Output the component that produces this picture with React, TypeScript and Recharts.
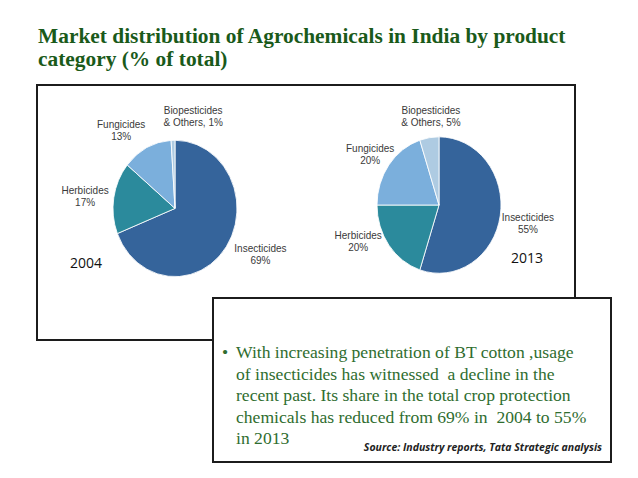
import React from 'react';
import { PieChart, Pie, Cell } from 'recharts';

const categories = ['Insecticides', 'Herbicides', 'Fungicides', 'Biopesticides & Others'];
const share2004 = [69, 17, 13, 1];
const share2013 = [55, 20, 20, 5];
const years = ['2004', '2013'];

const COLORS = ['#35649b', '#2b8a9c', '#7bafdc', '#aecbe2'];

// the pie picture in the slide is stretched a bit vertically
const STRETCH = 1.1;

// small nudges so labels sit where the slide has them
const NUDGE: Record<string, [number, number]> = {
  '2004-Insecticides': [11, -9],
  '2004-Herbicides': [-1, 3],
  '2004-Fungicides': [-13, 9],
  '2004-Biopesticides & Others': [21, 6],
  '2013-Insecticides': [0, 2],
  '2013-Herbicides': [-8, -20],
  '2013-Fungicides': [4, 6],
  '2013-Biopesticides & Others': [6, 8],
};

const bulletLines = [
  'With increasing penetration of BT cotton ,usage',
  'of insecticides has witnessed  a decline in the',
  'recent past. Its share in the total crop protection',
  'chemicals has reduced from 69% in  2004 to 55%',
  'in 2013',
];

const toRows = (values: number[]) => categories.map((name, i) => ({ name, value: values[i] }));

const makeLabel = (year: string) => (props: any) => {
  const { cx, cy, midAngle, outerRadius, name, value } = props;
  const RAD = Math.PI / 180;
  const r = outerRadius + 28;
  const [nx, ny] = NUDGE[`${year}-${name}`] || [0, 0];
  const x = cx + r * Math.cos(-midAngle * RAD) + nx;
  const y = cy + r * Math.sin(-midAngle * RAD) + ny;
  const lines = name === 'Biopesticides & Others'
    ? ['Biopesticides', `& Others, ${value}%`]
    : [name, `${value}%`];
  return (
    <text x={x} y={y} textAnchor="middle" fill="#3a3a3a" fontSize={10} fontFamily="'Liberation Sans', Arial, sans-serif">
      <tspan x={x} y={y - 5.5} dominantBaseline="central">{lines[0]}</tspan>
      <tspan x={x} y={y + 5.5} dominantBaseline="central">{lines[1]}</tspan>
    </text>
  );
};

const greenText = '#2f6d2f';

export default function App() {
  return (
    <div style={{ position: 'absolute', left: 0, top: 0, width: 638, height: 478, background: '#fff', overflow: 'hidden' }}>
      <div style={{ position: 'absolute', left: 38, top: 25, width: 600, fontFamily: "'Liberation Serif', 'Times New Roman', serif", fontWeight: 'bold', fontSize: 21.4, lineHeight: '23px', color: '#1a5a1a' }}>
        Market distribution of Agrochemicals in India by product<br />
        category (% of total)
      </div>

      {/* frame around the pies */}
      <div style={{ position: 'absolute', left: 36, top: 84, width: 536, height: 253, border: '2px solid #1c1c1c' }} />

      <div style={{ position: 'absolute', left: 0, top: 0, width: 638, height: 434, transform: `scale(1, ${STRETCH})`, transformOrigin: '0 0' }}>
        <PieChart width={638} height={434} margin={{ top: 0, right: 0, bottom: 0, left: 0 }}>
          <Pie
            data={toRows(share2004)}
            dataKey="value"
            nameKey="name"
            cx={175}
            cy={189.5}
            outerRadius={62}
            startAngle={90}
            endAngle={-270}
            stroke="#fff"
            strokeWidth={0.8}
            labelLine={false}
            label={makeLabel(years[0])}
            isAnimationActive={false}
          >
            {share2004.map((_, i) => <Cell key={i} fill={COLORS[i]} />)}
          </Pie>
          <Pie
            data={toRows(share2013)}
            dataKey="value"
            nameKey="name"
            cx={439}
            cy={186.4}
            outerRadius={62}
            startAngle={90}
            endAngle={-270}
            stroke="#fff"
            strokeWidth={0.8}
            labelLine={false}
            label={makeLabel(years[1])}
            isAnimationActive={false}
          >
            {share2013.map((_, i) => <Cell key={i} fill={COLORS[i]} />)}
          </Pie>
        </PieChart>
      </div>

      <div style={{ position: 'absolute', left: 70, top: 253, fontFamily: "'Open Sans', sans-serif", fontSize: 14, color: '#111' }}>{years[0]}</div>
      <div style={{ position: 'absolute', left: 511, top: 248, fontFamily: "'Open Sans', sans-serif", fontSize: 14, color: '#111' }}>{years[1]}</div>

      {/* commentary box */}
      <div style={{ position: 'absolute', left: 212, top: 297, width: 396, height: 162, border: '2px solid #1c1c1c', background: '#fff' }} />
      <div style={{ position: 'absolute', left: 222, top: 342, fontFamily: "'Liberation Serif', serif", fontSize: 17.6, lineHeight: '21.5px', color: greenText }}>•</div>
      {bulletLines.map((line, i) => (
        <div
          key={i}
          style={{ position: 'absolute', left: 236, top: 342 + i * 21.5, width: 'max-content', fontFamily: "'Liberation Serif', 'Times New Roman', serif", fontSize: 17.6, lineHeight: '21.5px', color: greenText, whiteSpace: 'pre' }}
        >
          {line}
        </div>
      ))}
      <div style={{ position: 'absolute', right: 36, top: 440, fontFamily: "'Open Sans', sans-serif", fontStyle: 'italic', fontWeight: 'bold', fontSize: 10.5, color: '#222' }}>
        Source: Industry reports, Tata Strategic analysis
      </div>
    </div>
  );
}
